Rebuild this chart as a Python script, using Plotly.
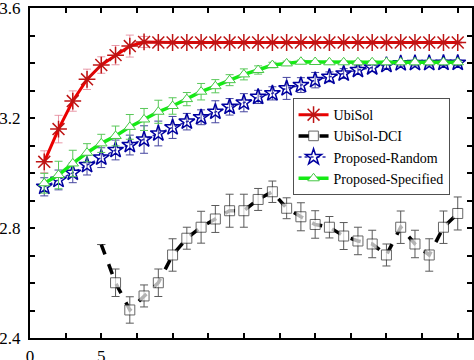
import plotly.graph_objects as go

x_vals = list(range(1, 31))

ubisol = [3.041, 3.160, 3.262, 3.341, 3.393, 3.429, 3.462, 3.477] + [3.475] * 22
ubisol_err = [0.04, 0.05, 0.037, 0.037, 0.03, 0.035, 0.04, 0.02, 0.01] + [0.004] * 21

spec = [2.963, 2.993, 3.035, 3.074, 3.108, 3.135, 3.168, 3.195, 3.223, 3.244,
        3.269, 3.296, 3.316, 3.338, 3.359, 3.375, 3.393, 3.399, 3.405, 3.404,
        3.403, 3.403, 3.403, 3.403, 3.403, 3.403, 3.403, 3.403, 3.403, 3.403]
spec_err = [0.036, 0.05, 0.048, 0.033, 0.033, 0.036, 0.045, 0.04, 0.042, 0.03,
            0.024, 0.03, 0.024, 0.02, 0.02, 0.015, 0.01, 0.008, 0.006, 0.005,
            0.005, 0.005, 0.005, 0.005, 0.005, 0.005, 0.005, 0.005, 0.005, 0.005]

rand = [2.950, 2.975, 3.001, 3.029, 3.056, 3.084, 3.102, 3.122, 3.144, 3.166,
        3.187, 3.203, 3.223, 3.241, 3.256, 3.277, 3.290, 3.308, 3.320, 3.338,
        3.350, 3.362, 3.375, 3.384, 3.393, 3.399, 3.400, 3.400, 3.401, 3.401]
rand_err = [0.033, 0.036, 0.036, 0.036, 0.036, 0.036, 0.036, 0.05, 0.045, 0.04,
            0.03, 0.027, 0.04, 0.03, 0.033, 0.024, 0.024, 0.04, 0.027, 0.028,
            0.018, 0.018, 0.015, 0.015, 0.012, 0.01, 0.01, 0.01, 0.01, 0.01]

dci_x = list(range(5, 31))
dci = [2.74, 2.601, 2.502, 2.553, 2.601, 2.702, 2.763, 2.803, 2.833, 2.863,
       2.863, 2.904, 2.932, 2.872, 2.841, 2.813, 2.803, 2.771, 2.753, 2.742,
       2.702, 2.803, 2.742, 2.702, 2.803, 2.853]
dci_err = [0, 0.05, 0.048, 0.04, 0.05, 0.059, 0.04, 0.058, 0.049, 0.06,
           0.06, 0.04, 0.039, 0.038, 0.051, 0.05, 0.039, 0.049, 0.05, 0.05,
           0.04, 0.059, 0.05, 0.059, 0.059, 0.06]

x_tickvals = [i * 2.5 for i in range(13)]
x_ticktext = ["0", "", "5"] + [""] * 10
y_tickvals = [round(2.4 + 0.1 * i, 1) for i in range(13)]
y_ticktext = ["2.4", "", "", "", "2.8", "", "", "", "3.2", "", "", "", "3.6"]

font_family = "Liberation Serif, Times New Roman, serif"

fig = go.Figure()

fig.add_trace(go.Scatter(
    x=x_vals, y=ubisol, name="UbiSol", mode="lines+markers",
    line=dict(color="rgb(235,0,0)", width=3),
    marker=dict(symbol="asterisk-open", size=14, color="rgb(190,20,20)",
                line=dict(color="rgb(190,20,20)", width=1.5)),
    error_y=dict(type="data", array=ubisol_err, color="rgba(225,120,140,0.75)",
                 thickness=1, width=4),
))

# error bars for UbiSol-DCI drawn first so the squares sit on top of them
fig.add_trace(go.Scatter(
    x=dci_x, y=dci, mode="markers", showlegend=False, hoverinfo="skip",
    marker=dict(size=1, color="rgba(0,0,0,0)"),
    error_y=dict(type="data", array=dci_err, color="rgb(90,90,90)",
                 thickness=1, width=4),
))

dci_sizes = [0] + [10] * (len(dci_x) - 1)
fig.add_trace(go.Scatter(
    x=dci_x, y=dci, name="UbiSol-DCI", mode="lines+markers",
    line=dict(color="black", width=3.5, dash="dash"),
    marker=dict(symbol="square", size=dci_sizes, color="white",
                line=dict(color="rgb(40,40,40)", width=1)),
))

fig.add_trace(go.Scatter(
    x=x_vals, y=rand, name="Proposed-Random", mode="lines+markers",
    line=dict(color="rgb(40,40,170)", width=1.5, dash="dot"),
    marker=dict(symbol="star-open", size=12, color="rgb(0,0,160)",
                line=dict(color="rgb(0,0,160)", width=1.5)),
    error_y=dict(type="data", array=rand_err, color="rgb(70,70,160)",
                 thickness=1, width=4),
))

fig.add_trace(go.Scatter(
    x=x_vals, y=spec, name="Proposed-Specified", mode="lines+markers",
    line=dict(color="rgb(20,235,20)", width=3.5),
    marker=dict(symbol="triangle-up", size=10, color="white",
                line=dict(color="rgb(70,200,70)", width=1)),
    error_y=dict(type="data", array=spec_err, color="rgb(90,200,90)",
                 thickness=1, width=4),
))

axis_common = dict(
    showgrid=False, zeroline=False, showline=True, linecolor="black",
    linewidth=2, mirror="allticks", ticks="inside", ticklen=5,
    tickwidth=1.5, tickcolor="black", automargin=False,
    ticklabeloverflow="allow",
    tickfont=dict(family=font_family, size=17, color="black"),
)

fig.update_layout(
    width=474, height=360,
    margin=dict(l=30, r=2, t=8, b=22),
    paper_bgcolor="white", plot_bgcolor="white",
    showlegend=True,
    legend=dict(
        x=0.594, y=0.727, xanchor="left", yanchor="top",
        bgcolor="white", bordercolor="rgb(80,80,80)", borderwidth=1,
        font=dict(family=font_family, size=14, color="black"),
        tracegroupgap=0, itemwidth=30,
    ),
    xaxis=dict(range=[0, 31], tickmode="array", tickvals=x_tickvals,
               ticktext=x_ticktext, ticklabelstandoff=2, **axis_common),
    yaxis=dict(range=[2.4, 3.6005], tickmode="array", tickvals=y_tickvals,
               ticktext=y_ticktext, ticklabelstandoff=4, **axis_common),
)

fig.write_html("out.html",
               config={"displayModeBar": False},
               post_script="document.body.style.margin='0';")
